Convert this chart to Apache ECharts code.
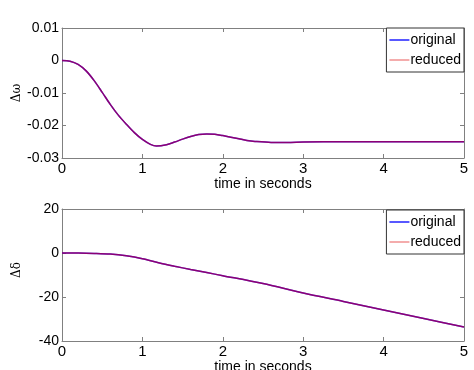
<!DOCTYPE html>
<html><head><meta charset="utf-8">
<script src="https://cdn.jsdelivr.net/npm/echarts@6/dist/echarts.min.js"></script>
<style>html,body{margin:0;padding:0;background:#fff}#c{width:474px;height:370px}</style>
</head><body><div id="c"></div>
<script>
// Top panel: Δω vs time
const tW = [0,0.1,0.2,0.3,0.4,0.5,0.6,0.7,0.8,0.9,1.0,1.1,1.175,1.3,1.4,1.5,1.6,1.7,1.8,1.9,2.0,2.1,2.2,2.3,2.4,2.6,2.8,3.0,3.5,4.0,4.5,5.0];
const wOriginal = [0,-0.0002,-0.0012,-0.0032,-0.0062,-0.0098,-0.0135,-0.0168,-0.0196,-0.0222,-0.0243,-0.0258,-0.0263,-0.0259,-0.0251,-0.0242,-0.0234,-0.0228,-0.0226,-0.0227,-0.0231,-0.0236,-0.0241,-0.0246,-0.0249,-0.0252,-0.0252,-0.0251,-0.0250,-0.0250,-0.0250,-0.0250];
const wReduced = wOriginal.slice();
// Bottom panel: Δδ vs time
const tD = [0,0.2,0.4,0.6,0.8,1.0,1.2,1.4,1.6,1.8,2.0,2.5,3.0,3.5,4.0,4.5,5.0];
const dOriginal = [0,-0.05,-0.2,-0.5,-1.3,-2.6,-4.4,-6.0,-7.5,-8.9,-10.3,-13.9,-18.2,-22.0,-25.9,-29.8,-33.6];
const dReduced = dOriginal.slice();
const xTicks = [0,1,2,3,4,5];
const yTicksW = [-0.03,-0.02,-0.01,0,0.01];
const yTicksD = [-40,-20,0,20];
const legendNames = ['original','reduced'];
const yNames = ['Δω', 'Δδ'];

const pairs = (t, v) => t.map((x, i) => [x, v[i]]);
const FONT = 'Liberation Sans, Arial, sans-serif';
const AX = '#808080';
const fmt = v => String(parseFloat(Number(v).toFixed(4)));

function xa(gi, pos, labels) {
  return {
    gridIndex: gi, type: 'value', position: pos, min: xTicks[0], max: xTicks[xTicks.length-1], interval: 1,
    name: labels ? 'time in seconds' : '', nameLocation: 'middle', nameGap: 19,
    nameTextStyle: {color: '#000', fontFamily: FONT, fontSize: 14},
    axisLine: {show: true, onZero: false, lineStyle: {color: AX, width: 1}},
    axisTick: {show: true, inside: true, length: 4, lineStyle: {color: AX}},
    axisLabel: {show: labels, color: '#000', fontFamily: FONT, fontSize: 15, margin: 3},
    splitLine: {show: false}
  };
}
function ya(gi, pos, labels, ticks) {
  return {
    gridIndex: gi, type: 'value', position: pos, min: ticks[0], max: ticks[ticks.length-1],
    interval: ticks[1]-ticks[0],
    axisLine: {show: true, onZero: false, lineStyle: {color: AX, width: 1}},
    axisTick: {show: true, inside: true, length: 4, lineStyle: {color: AX}},
    axisLabel: {show: labels, color: '#000', fontFamily: FONT, fontSize: 14, margin: 3, formatter: fmt},
    splitLine: {show: false}
  };
}
function ser(name, xi, yi, data, color, op, w) {
  return {name, type: 'line', xAxisIndex: xi, yAxisIndex: yi, data, showSymbol: false, symbol: 'none',
    smooth: 0.3, lineStyle: {color, width: w, opacity: op}, itemStyle: {color}, animation: false};
}
function yName(text, x, y) {
  return {type: 'text', x, y, rotation: Math.PI / 2,
    style: {text, fill: '#000', font: '12px "DejaVu Serif", serif', align: 'center', verticalAlign: 'middle'}};
}
const legendColors = ['#2020ff', '#f09090'];
const legendBase = {
  orient: 'vertical', right: 10, icon: 'rect', itemWidth: 20, itemHeight: 1.5, itemGap: 4,
  backgroundColor: '#fff', borderColor: '#333', borderWidth: 1, padding: [4, 3, 4, 3],
  textStyle: {color: '#000', fontFamily: FONT, fontSize: 14, lineHeight: 16, padding: [0, 0, 0, -4]},
  data: legendNames.map((n, i) => ({name: n, itemStyle: {color: legendColors[i]}})),
  selectedMode: false
};
const chart = echarts.init(document.getElementById('c'), null, {renderer: 'canvas'});
chart.setOption({
  animation: false,
  backgroundColor: '#fff',
  grid: [
    {left: 62, top: 28, width: 402, height: 130, show: false, outerBoundsMode: 'none', containLabel: false},
    {left: 62, top: 209, width: 402, height: 132, show: false, outerBoundsMode: 'none', containLabel: false}
  ],
  xAxis: [xa(0, 'bottom', true), xa(0, 'top', false), xa(1, 'bottom', true), xa(1, 'top', false)],
  yAxis: [ya(0, 'left', true, yTicksW), ya(0, 'right', false, yTicksW),
          ya(1, 'left', true, yTicksD), ya(1, 'right', false, yTicksD)],
  graphic: [yName(yNames[0], 17, 93), yName(yNames[1], 17, 270)],
  legend: [
    Object.assign({}, legendBase, {top: 28}),
    Object.assign({}, legendBase, {top: 210})
  ],
  series: [
    ser('original', 0, 0, pairs(tW, wOriginal), '#0000ff', 1, 1.5),
    ser('reduced', 0, 0, pairs(tW, wReduced), '#ff0000', 0.55, 1.5),
    ser('original', 2, 2, pairs(tD, dOriginal), '#0000ff', 1, 1.5),
    ser('reduced', 2, 2, pairs(tD, dReduced), '#ff0000', 0.55, 1.5)
  ]
});
</script></body></html>
